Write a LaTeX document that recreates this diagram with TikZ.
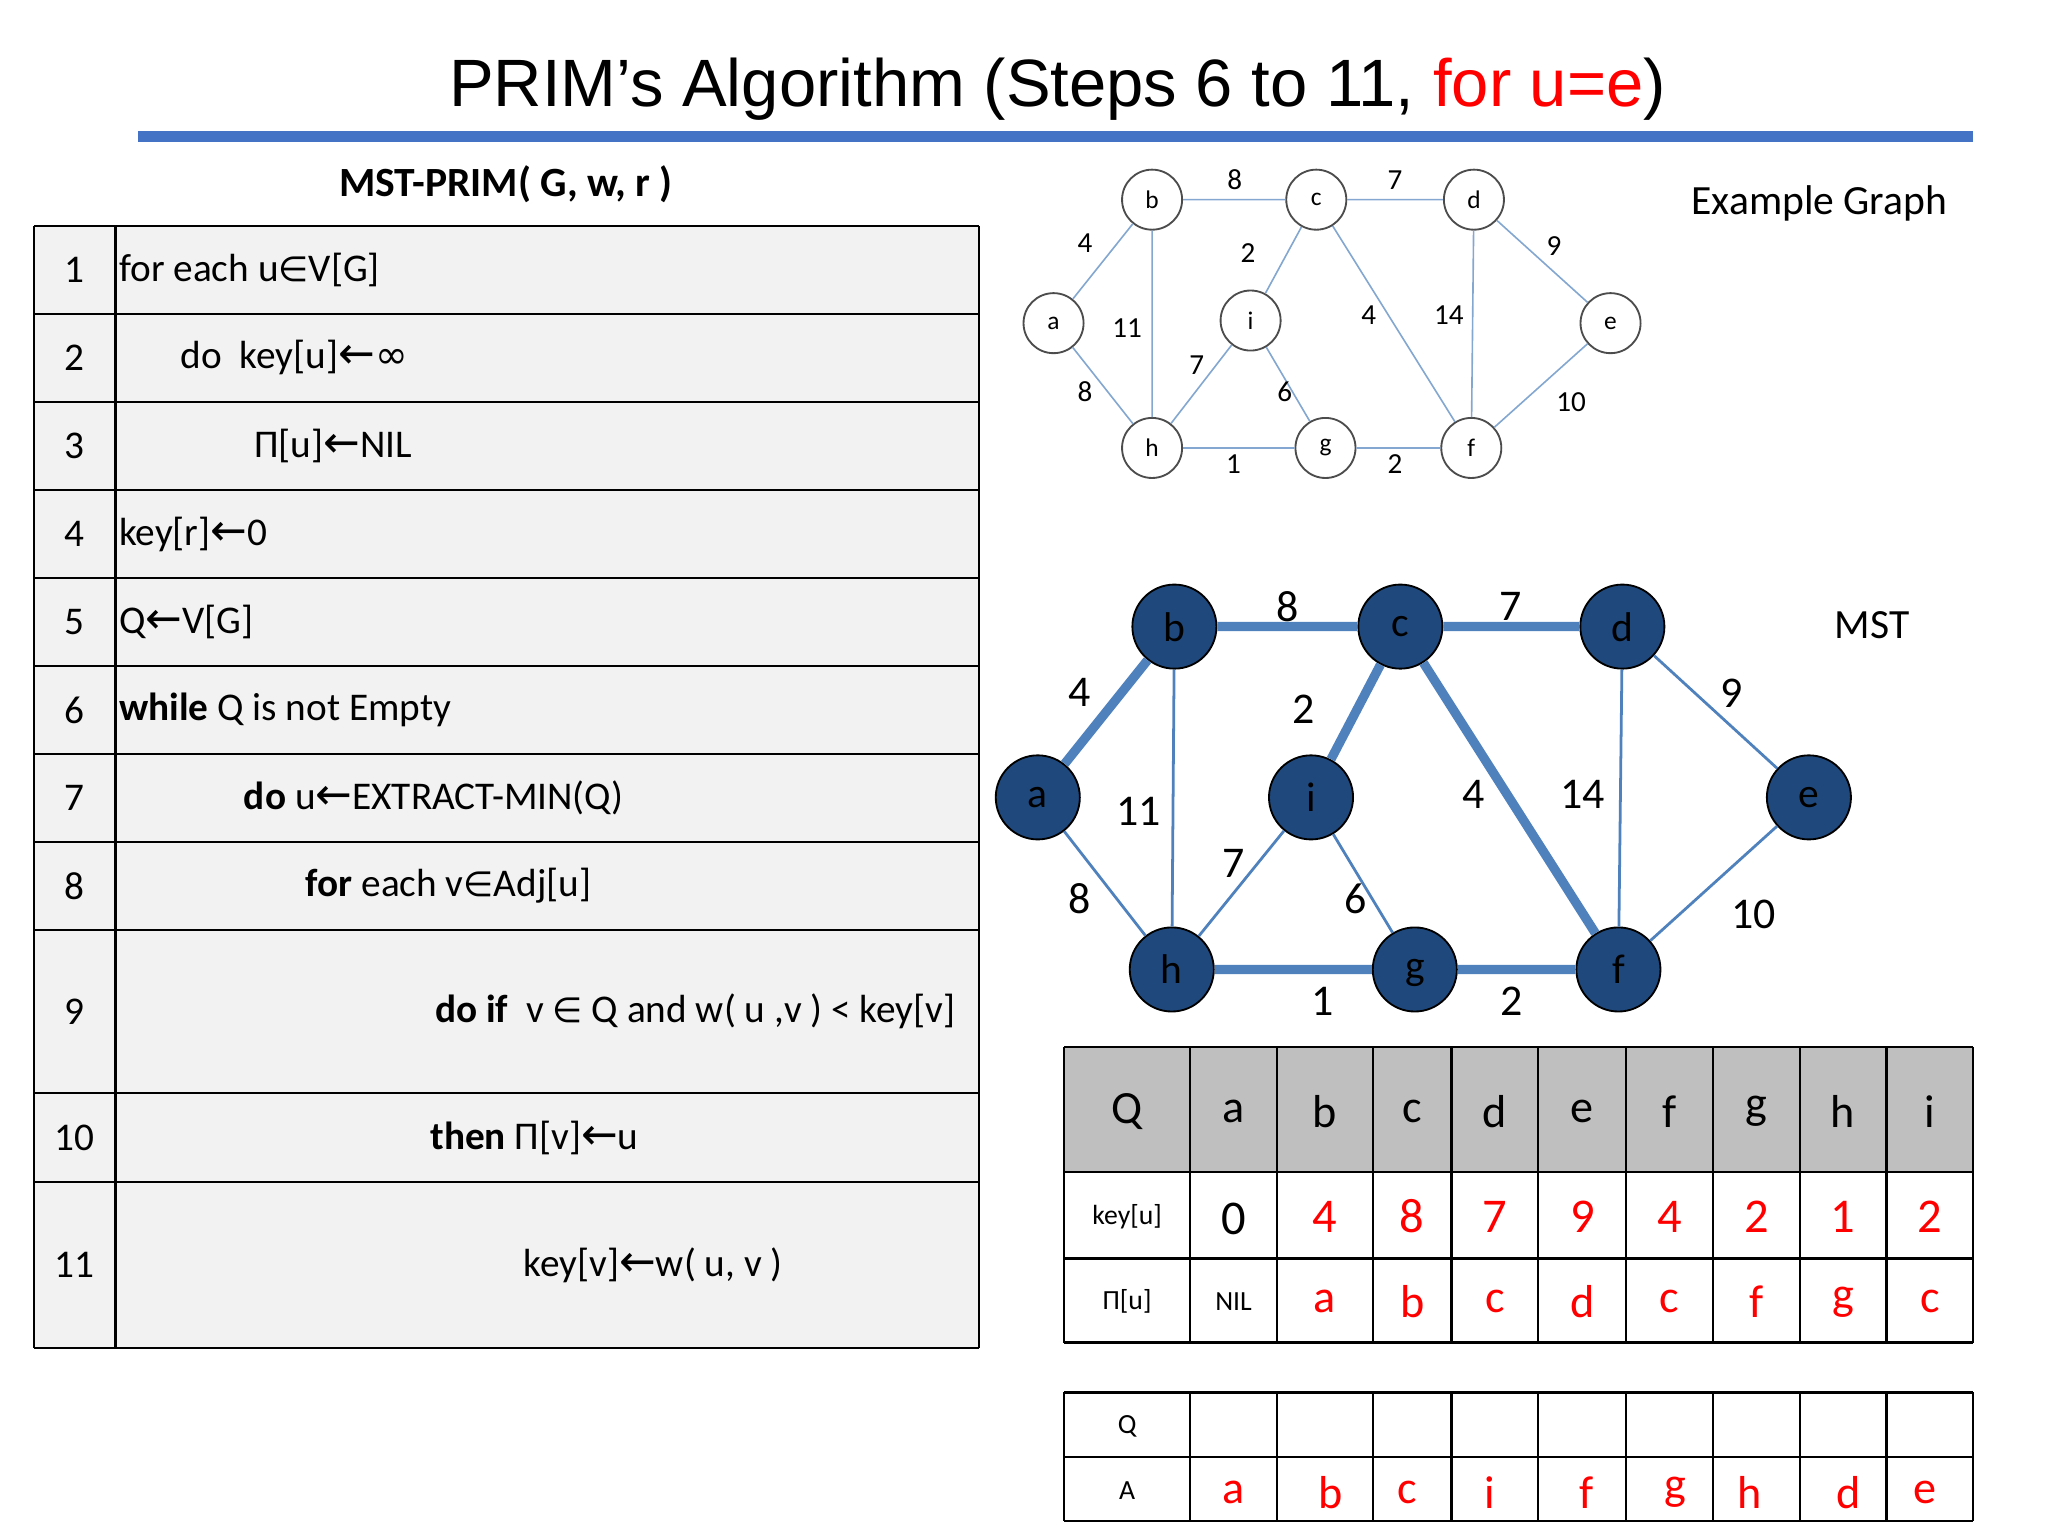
\documentclass[tikz,border=0pt]{standalone}
\usepackage{fontspec}
\setmainfont{Carlito}
\newfontfamily\arialf{Liberation Sans}
\newfontfamily\djv{DejaVu Sans}
\newcommand{\la}{{\djv\fontsize{9.5}{9}\selectfont ←}}
\newcommand{\inff}{{\djv ∞}}
\newcommand{\inn}{{\djv\fontsize{7.5}{9}\selectfont ∈}}
\definecolor{blueline}{RGB}{68,114,196}
\definecolor{edgeb}{RGB}{79,129,189}
\definecolor{navy}{RGB}{31,73,125}
\definecolor{tgray}{RGB}{242,242,242}
\definecolor{hgray}{RGB}{191,191,191}
\definecolor{myred}{RGB}{255,0,0}
\tikzset{
 sn/.style={circle,draw=black!70,fill=white,minimum size=13pt,inner sep=0pt,font=\fontsize{5.5}{6}\selectfont},
 se/.style={edgeb!70,line width=0.35pt},
 sl/.style={font=\fontsize{6.3}{7}\selectfont},
 bn/.style={circle,draw=black,fill=navy,minimum size=18.2pt,inner sep=0pt,font=\fontsize{9}{10}\selectfont,text depth=-3pt},
 te/.style={edgeb,line width=0.6pt},
 thk/.style={edgeb,line width=2pt},
 bl/.style={font=\fontsize{9.5}{11}\selectfont},
 ct/.style={font=\fontsize{8.5}{10}\selectfont,anchor=west,inner sep=0pt},
}
\begin{document}
\begin{tikzpicture}[x=0.01cm,y=-0.01cm]
\useasboundingbox (0,0) rectangle (1559,1170);
% title
\node (title) at (805,68) {\arialf\fontsize{14.5}{16}\selectfont PRIM’s Algorithm (Steps 6 to 11, \textcolor{myred}{for u=e})};
\fill[blueline] (105,100) rectangle (1502,108);
\node[font=\bfseries\fontsize{9}{11}\selectfont] (mh) at (385,140) {MST-PRIM( G, w, r )};
% left table
\fill[tgray] (26,172) rectangle (745,1026);
\foreach \y in {172,239,306,373,440,507,574,641,708,832,900,1026} \draw[black,line width=0.5pt] (26,\y) -- (745,\y);
\draw[line width=0.5pt] (26,172) -- (26,1026) (88,172) -- (88,1026) (745,172) -- (745,1026);
\foreach \n/\y in {1/205.5,2/272.5,3/339.5,4/406.5,5/473.5,6/540.5,7/607.5,8/674.5,9/770,10/866,11/963}
  \node[font=\fontsize{8.5}{10}\selectfont] (n\n) at (57,\y) {\n};
\node[ct] (r1) at (90,205.5) {for each u\inn V[G]};
\node[ct] (r2) at (137,272.5) {do\ \ key[u]\la\inff};
\node[ct] (r3) at (193,339.5) {Π[u]\la NIL};
\node[ct] (r4) at (90,406.5) {key[r]\la 0};
\node[ct] (r5) at (90,473.5) {Q\la V[G]};
\node[ct] (r6) at (90,540.5) {\textbf{while} Q is not Empty};
\node[ct] (r7) at (185,607.5) {\textbf{do} u\la EXTRACT-MIN(Q)};
\node[ct] (r8) at (232,674.5) {\textbf{for} each v\inn Adj[u]};
\node[ct,anchor=east] (r9) at (728,770) {\textbf{do if}\ \ v \inn\ Q and w( u ,v ) < key[v]};
\node[ct] (r10) at (327,866) {\textbf{then} Π[v]\la u};
\node[ct] (r11) at (398,963) {key[v]\la w( u, v )};
% example graph
\node[sn] (sb) at (877,152) {b};
\node[sn] (sc) at (1002,152) {c};
\node[sn] (sd) at (1122,152) {d};
\node[sn] (sa) at (802,246) {a};
\node[sn] (si) at (952,244) {i};
\node[sn] (se) at (1226,246) {e};
\node[sn] (sh) at (877,341) {h};
\node[sn] (sg) at (1009,341) {g};
\node[sn] (sf) at (1120,341) {f};
\draw[se] (sa)--(sb) (sb)--(sc) (sc)--(sd) (sd)--(se) (se)--(sf) (sf)--(sg) (sg)--(sh) (sh)--(sa) (sb)--(sh) (sc)--(si) (si)--(sh) (si)--(sg) (sc)--(sf) (sd)--(sf);
\foreach \t/\x/\y in {8/940/137,7/1062/137,4/826/185,2/950/193,9/1183/187,11/858/250,4/1042/240,14/1103/240,7/911/278,6/978/298,8/826/298,10/1196/306,1/939/353,2/1062/353}
  \node[sl] at (\x,\y) {\t};
\node[font=\fontsize{9}{11}\selectfont] (eg) at (1385,155) {Example Graph};
% MST
\node[bn] (b) at (894,477) {b};
\node[bn] (c) at (1066,477) {c};
\node[bn] (d) at (1235,477) {d};
\node[bn] (a) at (790,607) {a};
\node[bn] (i) at (998,607) {i};
\node[bn] (e) at (1377,607) {e};
\node[bn] (h) at (892,738) {h};
\node[bn] (g) at (1077,738) {g};
\node[bn] (f) at (1232,738) {f};
\draw[te] (b)--(h) (a)--(h) (i)--(h) (i)--(g) (d)--(f) (d)--(e) (e)--(f);
\draw[thk] (a)--(b) (b)--(c) (c)--(d) (c)--(i) (c)--(f) (h)--(g) (g)--(f);
\foreach \t/\x/\y in {8/980/462,7/1150/462,4/822/527,2/992/540,9/1318/528,11/867/618,4/1122/605,14/1205/605,7/939/657,6/1032/684,8/822/684,10/1335/696,1/1007/762,2/1151/762}
  \node[bl] at (\x,\y) {\t};
\node[font=\fontsize{9}{11}\selectfont] (mst) at (1425,476) {MST};
% right table 1
\fill[hgray] (810,797) rectangle (1502,892);
\foreach \y in {797,892,958,1022} \draw[line width=0.5pt] (810,\y) -- (1502,\y);
\foreach \x in {810,906,972,1045,1105,1171,1238,1304,1370,1436,1502} \draw[line width=0.5pt] (\x,797) -- (\x,1022);
\foreach \t/\x in {Q/858,a/939,b/1008.5,c/1075,d/1138,e/1204.5,f/1271,g/1337,h/1403,i/1469}
  \node[font=\fontsize{10}{12}\selectfont] at (\x,846) {\t};
\node[font=\fontsize{6}{7}\selectfont] at (858,926) {key[u]};
\node[font=\fontsize{10.5}{12}\selectfont] at (939,928) {0};
\foreach \t/\x in {4/1008.5,8/1075,7/1138,9/1204.5,4/1271,2/1337,1/1403,2/1469}
  \node[font=\fontsize{10.5}{12}\selectfont,text=myred] at (\x,926) {\t};
\node[font=\fontsize{6}{7}\selectfont] at (858,991) {Π[u]};
\node[font=\fontsize{6}{7}\selectfont] at (939,991) {NIL};
\foreach \t/\x in {a/1008.5,b/1075,c/1138,d/1204.5,c/1271,f/1337,g/1403,c/1469}
  \node[font=\fontsize{10}{12}\selectfont,text=myred] at (\x,991) {\t};
% right table 2
\foreach \y in {1060,1109,1158} \draw[line width=0.5pt] (810,\y) -- (1502,\y);
\foreach \x in {810,906,972,1045,1105,1171,1238,1304,1370,1436,1502} \draw[line width=0.5pt] (\x,1060) -- (\x,1158);
\node[font=\fontsize{6}{7}\selectfont] at (858,1086) {Q};
\node[font=\fontsize{6}{7}\selectfont] at (858,1135) {A};
\foreach \t/\x in {a/939,b/1013,c/1071,i/1134,f/1208,g/1275,h/1332,d/1407,e/1465}
  \node[font=\fontsize{10}{12}\selectfont,text=myred] at (\x,1136) {\t};
\end{tikzpicture}
\end{document}
